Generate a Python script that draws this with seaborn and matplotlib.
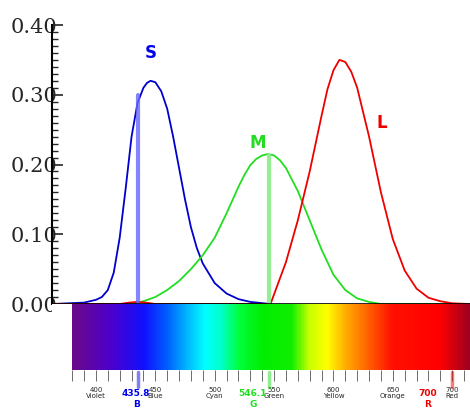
import numpy as np
import matplotlib
matplotlib.use('Agg')
import matplotlib.pyplot as plt
import matplotlib.transforms as mtransforms
from matplotlib.colors import LinearSegmentedColormap
import seaborn as sns

sns.set_style('white')

# cone response curves (wavelength nm, value)
s_nm = [363, 390, 400, 405, 410, 415, 420, 425, 430, 435, 440, 443, 446, 450, 455, 460, 465, 470, 475, 480, 485, 490, 500, 510, 520, 530, 547]
s_val = [0.0, 0.002, 0.006, 0.01, 0.02, 0.045, 0.095, 0.165, 0.24, 0.288, 0.31, 0.317, 0.32, 0.318, 0.305, 0.28, 0.24, 0.195, 0.15, 0.11, 0.08, 0.058, 0.03, 0.015, 0.007, 0.003, 0.0]

m_nm = [363, 430, 440, 450, 460, 470, 480, 490, 500, 510, 520, 525, 530, 535, 540, 545, 550, 555, 560, 570, 580, 590, 600, 610, 620, 630, 640, 715]
m_val = [0.0, 0.0, 0.004, 0.01, 0.02, 0.033, 0.05, 0.07, 0.095, 0.13, 0.168, 0.185, 0.199, 0.208, 0.213, 0.215, 0.213, 0.206, 0.195, 0.162, 0.12, 0.078, 0.042, 0.02, 0.008, 0.003, 0.0, 0.0]

l_nm = [363, 420, 428, 435, 442, 450, 547, 560, 570, 580, 590, 595, 600, 605, 610, 615, 620, 630, 640, 650, 660, 670, 680, 690, 700, 715]
l_val = [0.0, 0.0, 0.002, 0.003, 0.002, 0.0, 0.0, 0.06, 0.12, 0.19, 0.27, 0.308, 0.335, 0.35, 0.347, 0.333, 0.31, 0.24, 0.16, 0.093, 0.048, 0.022, 0.009, 0.004, 0.001, 0.0]

# spectrum colour stops
spec_nm = [380, 410, 440, 460, 480, 492, 505, 520, 540, 565, 580, 595, 610, 630, 650, 690, 715]
spec_col = ['#6a0a8a', '#5000c8', '#1010ff', '#0060ff', '#00c8ff', '#00ffff', '#00ffcc',
            '#00ff40', '#00ee00', '#10ee00', '#c8ff00', '#ffff00', '#ffb000', '#ff6000',
            '#ff1000', '#ff0000', '#a00020']

tick_major = [400, 450, 500, 550, 600, 650, 700]
tick_names = ['Violet', 'Blue', 'Cyan', 'Green', 'Yellow', 'Orange', 'Red']
primaries = [435.8, 546.1, 700]
primary_tags = ['B', 'G', 'R']
primary_label_nm = [434, 532, 679]
primary_cols = ['#0000ee', '#22dd22', '#ee0000']
peaks_s, peaks_m = 0.30, 0.214

W, H = 470, 415
fig = plt.figure(figsize=(W / 100, H / 100), dpi=100)
ax = fig.add_axes([52 / W, 1 - 304 / H, (470 - 52) / W, (304 - 25) / H])
ax.plot(s_nm, s_val, color='#0000cc', lw=1.3)
ax.plot(m_nm, m_val, color='#22dd22', lw=1.3)
ax.plot(l_nm, l_val, color='#ee0000', lw=1.3)
ax.plot([primaries[0]] * 2, [0, peaks_s], color='#6666ff', lw=3, alpha=0.8)
ax.plot([primaries[1]] * 2, [0, peaks_m], color='#88ee88', lw=3, alpha=0.9)
ax.axhline(0, color='black', lw=1.2)
ax.set_xlim(363, 715)
ax.set_ylim(0, 0.40)
ax.set_yticks([0.0, 0.1, 0.2, 0.3, 0.4])
ax.set_yticklabels(['0.00', '0.10', '0.20', '0.30', '0.40'], family='DejaVu Serif', fontsize=15)
ax.set_yticks(np.arange(0, 0.401, 0.01), minor=True)
ax.tick_params(axis='y', which='major', direction='in', length=8, width=1.2, pad=-4, left=True)
ax.tick_params(axis='y', which='minor', direction='in', length=4, width=1, left=True)
ax.set_xticks([])
for sp in ['top', 'right', 'bottom']:
    ax.spines[sp].set_visible(False)
ax.spines['left'].set_linewidth(1.5)
ax.spines['left'].set_color('black')
ax.text(446, 0.352, 'S', color='#0000ee', fontsize=12, fontweight='bold', ha='center')
ax.text(536, 0.223, 'M', color='#22dd22', fontsize=12, fontweight='bold', ha='center')
ax.text(641, 0.252, 'L', color='#ee0000', fontsize=12, fontweight='bold', ha='center')

# spectrum bar
bx = fig.add_axes([52 / W, 1 - 370 / H, (470 - 52) / W, 66 / H])
pos = [(n - spec_nm[0]) / (spec_nm[-1] - spec_nm[0]) for n in spec_nm]
cmap = LinearSegmentedColormap.from_list('spec', list(zip(pos, spec_col)))
bx.imshow(np.linspace(0, 1, 400)[None, :], cmap=cmap, aspect='auto',
          extent=[spec_nm[0], spec_nm[-1], 0, 1])
bx.set_xlim(363, 715)
bx.set_ylim(0, 1)
bx.set_yticks([])
for sp in bx.spines.values():
    sp.set_visible(False)
bx.set_xticks(tick_major)
bx.set_xticklabels([f'{t}\n{n}' for t, n in zip(tick_major, tick_names)], fontsize=5, linespacing=1.1)
bx.set_xticks(np.arange(380, 711, 10), minor=True)
bx.tick_params(axis='x', which='both', direction='out', length=8, width=0.6,
               color='#555555', pad=4, bottom=True)
trans = mtransforms.blended_transform_factory(bx.transData, bx.transAxes)
for p, lx, tag, c in zip(primaries, primary_label_nm, primary_tags, primary_cols):
    bx.plot([p, p], [-0.03, -0.25], color=c, lw=2.5, alpha=0.5, transform=trans, clip_on=False)
    bx.text(lx, -0.35, f'{p:g}', color=c, fontsize=6.5, fontweight='bold', ha='center',
            va='center', transform=trans)
    bx.text(lx, -0.52, tag, color=c, fontsize=6.5, fontweight='bold', ha='center',
            va='center', transform=trans)

fig.savefig('out.png', dpi=100)
